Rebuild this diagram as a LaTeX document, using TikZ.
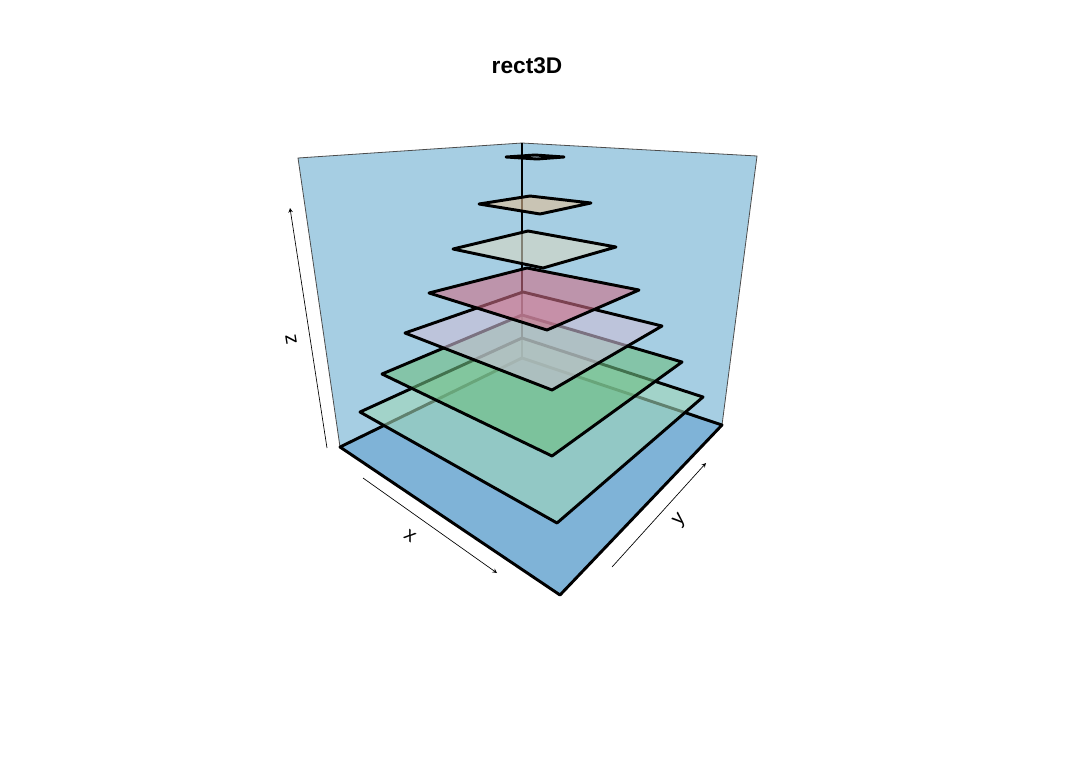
\documentclass[tikz,border=0pt]{standalone}
\usepackage{fontspec}
\setmainfont{Liberation Sans}
\begin{document}
\begin{tikzpicture}[x=0.75pt,y=-0.75pt,
  panel/.style={fill=panelblue,draw=black!70,line width=0.6pt},
  sq/.style={draw=black,line width=2.2pt,line join=round,fill opacity=0.6},
  axarrow/.style={-stealth,line width=0.5pt},
  axlabel/.style={font=\fontsize{15}{15}\selectfont}]
\definecolor{panelblue}{HTML}{A6CEE3}
\definecolor{floorblue}{HTML}{7FB3D7}
\useasboundingbox (0,0) rectangle (1080,771);
\fill[white] (0,0) rectangle (1080,771);
\node[font=\bfseries\fontsize{17}{17}\selectfont] (title) at (527,66) {rect3D};
\draw[panel] (298,158) -- (522,143) -- (522,358) -- (340,447) -- cycle;
\draw[panel] (522,143) -- (757,156) -- (722,425) -- (522,358) -- cycle;
\draw[fill=floorblue,line width=2.2pt,line join=round] (340,447) -- (560,595) -- (722,425) -- (522,358) -- cycle;
\draw[line width=0.8pt] (522,143) -- (522,358);
\draw[sq,fill={rgb,255:red,160;green,215;blue,185}] (360,412) -- (557,523) -- (703,397) -- (522,338) -- cycle;
\draw[sq,fill={rgb,255:red,110;green,190;blue,130}] (382,374) -- (552,456) -- (682,362) -- (522,315) -- cycle;
\draw[sq,fill={rgb,255:red,205;green,190;blue,215}] (405,333) -- (552,390) -- (662,326) -- (523,292) -- cycle;
\draw[sq,fill={rgb,255:red,205;green,110;blue,135}] (429,293) -- (547,330) -- (639,290) -- (527,268) -- cycle;
\draw[sq,fill={rgb,255:red,215;green,215;blue,195}] (453,249) -- (543,268) -- (616,247) -- (528,231) -- cycle;
\draw[sq,fill={rgb,255:red,225;green,190;blue,150}] (479,204) -- (540,214) -- (591,203) -- (530,196) -- cycle;
\draw[sq,fill={rgb,255:red,200;green,210;blue,220}] (506,157) -- (537,159) -- (564,157) -- (535,155) -- cycle;
\coordinate (z0) at (327,448); \coordinate (z1) at (290,208);
\coordinate (x0) at (363,478); \coordinate (x1) at (497,573);
\coordinate (y0) at (612,567); \coordinate (y1) at (706,463);
\draw[axarrow] (z0) -- (z1);
\draw[axarrow] (x0) -- (x1);
\draw[axarrow] (y0) -- (y1);
\node[axlabel,rotate=-81] (zl) at (291,340) {z};
\node[axlabel,rotate=-35] (xl) at (410,536) {x};
\node[axlabel,rotate=48] (yl) at (680,521) {y};
\end{tikzpicture}
\end{document}
